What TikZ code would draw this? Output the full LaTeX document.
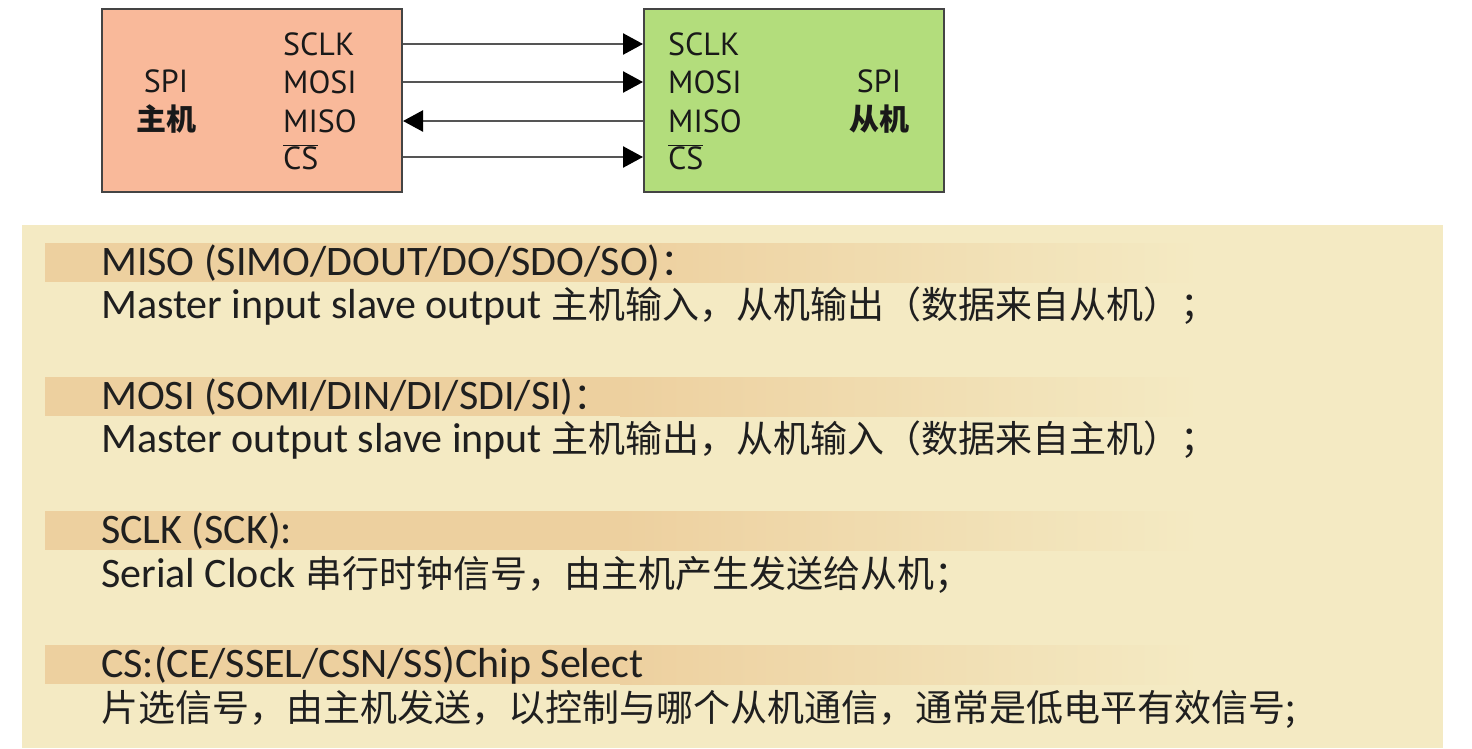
\documentclass[tikz,border=0pt]{standalone}
\usepackage{fontspec}
\setmainfont{Carlito}
\newfontfamily\cjk{Noto Sans CJK SC}
\newfontfamily\boxfont{PT Sans}
\usetikzlibrary{arrows.meta}
\definecolor{mfill}{HTML}{F9B99A}
\definecolor{sfill}{HTML}{B3DD7C}
\definecolor{panelc}{HTML}{F4EAC3}
\definecolor{bandc}{HTML}{EDD09F}
\definecolor{wirec}{HTML}{555555}
\definecolor{edgec}{HTML}{444444}
\newcommand\zh[1]{{\cjk\fontsize{37}{44}\selectfont #1}}
\begin{document}
\begin{tikzpicture}[x=1pt,y=-1pt,
  chip/.style={draw=edgec, line width=2pt, minimum width=300pt, minimum height=183pt, anchor=north west, inner sep=0pt},
  pinlabel/.style={anchor=west, inner sep=0pt, font=\boxfont\fontsize{32}{36}\selectfont, text=black!90},
  title/.style={anchor=center, inner sep=0pt, align=center, font=\boxfont\fontsize{32}{40}\selectfont, text=black!90},
  wire/.style={draw=wirec, line width=2.4pt},
  tipr/.style={-{Triangle[length=20pt,width=21pt,color=black]}},
  ptext/.style={anchor=base west, inner sep=0pt, font=\fontsize{42}{50}\selectfont, text=black!88}
]
\useasboundingbox (0,0) rectangle (1472,748);
\fill[white] (0,0) rectangle (1472,748);

% chips
\node[chip, fill=mfill] (master) at (101,8) {};
\node[chip, fill=sfill] (slave) at (643,8) {};

\node[title] (mtitle) at (166,102) {SPI\\[-2pt]{\cjk\bfseries\fontsize{30}{36}\selectfont 主机}};
\node[title] (stitle) at (879,102) {SPI\\[-2pt]{\cjk\bfseries\fontsize{30}{36}\selectfont 从机}};

\node[pinlabel] (mSCLK) at (283,44) {SCLK};
\node[pinlabel] (mMOSI) at (283,82) {MOSI};
\node[pinlabel] (mMISO) at (283,121) {MISO};
\node[pinlabel] (mCS) at (283,157) {$\overline{\hbox{CS}}$};

\node[pinlabel] (sSCLK) at (668,44) {SCLK};
\node[pinlabel] (sMOSI) at (668,82) {MOSI};
\node[pinlabel] (sMISO) at (668,121) {MISO};
\node[pinlabel] (sCS) at (668,157) {$\overline{\hbox{CS}}$};

\coordinate (m1) at (master.east |- mSCLK);
\coordinate (m2) at (master.east |- mMOSI);
\coordinate (m3) at (master.east |- mMISO);
\coordinate (m4) at (master.east |- mCS);
\coordinate (s1) at (slave.west |- sSCLK);
\coordinate (s2) at (slave.west |- sMOSI);
\coordinate (s3) at (slave.west |- sMISO);
\coordinate (s4) at (slave.west |- sCS);

\draw[wire, tipr] (m1) -- (s1);
\draw[wire, tipr] (m2) -- (s2);
\draw[wire, tipr] (s3) -- (m3);
\draw[wire, tipr] (m4) -- (s4);

% panel
\fill[panelc] (22,225) rectangle (1443,748);
\foreach \y in {243,377,511,645}{
  \fill[bandc] (45,\y) rectangle (620,\y+39);
  \shade[left color=bandc, right color=panelc] (620,\y) rectangle (1200,\y+39);
}

\node[ptext] (h1) at (101,275) {MISO (SIMO/DOUT/DO/SDO/SO)\zh{：}};
\node[ptext] (b1) at (101,318) {Master input slave output \zh{主机输入，从机输出（数据来自从机）；}};
\node[ptext] (h2) at (101,409) {MOSI (SOMI/DIN/DI/SDI/SI)\zh{：}};
\node[ptext] (b2) at (101,452) {Master output slave input \zh{主机输出，从机输入（数据来自主机）；}};
\node[ptext] (h3) at (101,543) {SCLK (SCK):};
\node[ptext] (b3) at (101,587) {Serial Clock \zh{串行时钟信号，由主机产生发送给从机；}};
\node[ptext] (h4) at (101,677) {CS:(CE/SSEL/CSN/SS)Chip Select};
\node[ptext] (b4) at (101,721) {\zh{片选信号，由主机发送，以控制与哪个从机通信，通常是低电平有效信号;}};
\end{tikzpicture}
\end{document}
